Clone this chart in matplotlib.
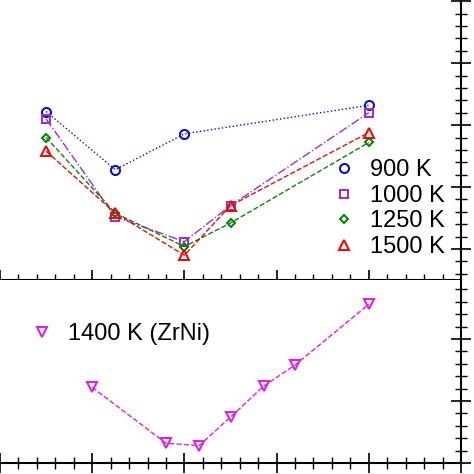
import matplotlib
matplotlib.use("Agg")
import matplotlib.pyplot as plt
import numpy as np
from matplotlib.ticker import MultipleLocator

plt.rcParams["font.family"] = ["Liberation Sans", "DejaVu Sans"]

# top panel: four temperatures
x_top = [0.05, 0.125, 0.2, 0.25, 0.4]
t900_x = [0.05, 0.125, 0.2, 0.4]
t900_y = [1.61, 1.14, 1.43, 1.66]
t1000 = [1.55, 0.76, 0.56, 0.85, 1.60]
t1250 = [1.40, 0.79, 0.52, 0.71, 1.36]
t1500 = [1.29, 0.79, 0.45, 0.85, 1.44]

# bottom panel: ZrNi
x_bot = [0.1, 0.18, 0.216, 0.25, 0.286, 0.32, 0.4]
zrni = [0.61, 0.16, 0.14, 0.37, 0.62, 0.79, 1.28]

fig = plt.figure(figsize=(4.74, 4.74), dpi=100)
ax1 = fig.add_axes([0.0, 194/474, 461/474, 280/474])
ax2 = fig.add_axes([0.0, 11/474, 461/474, 183/474])

ms = 6.5
ax1.plot(t900_x, t900_y, ":", color="#1010c0", marker="o", mfc="none", ms=ms, mew=1.5, lw=1, label="900 K")
ax1.plot(x_top, t1000, "-.", color="#9933cc", marker="s", mfc="none", ms=ms-1, mew=1.5, lw=1, label="1000 K")
ax1.plot(x_top, t1250, "--", color="#108010", marker="D", mfc="none", ms=ms-2, mew=1.5, lw=1, label="1250 K")
ax1.plot(x_top, t1500, "--", color="#e01010", marker="^", mfc="none", ms=ms, mew=1.5, lw=1, label="1500 K")
ax2.plot(x_bot, zrni, "--", color="#dd22dd", marker="v", mfc="none", ms=ms, mew=1.5, lw=1, label="1400 K (ZrNi)")

ax1.set_ylim(0.25, 2.51)
ax2.set_ylim(0, 1.476)
for ax in (ax1, ax2):
    ax.set_xlim(0, 0.5)
    ax.xaxis.set_major_locator(MultipleLocator(0.1))
    ax.xaxis.set_minor_locator(MultipleLocator(0.02))
    ax.yaxis.set_major_locator(MultipleLocator(0.5))
    ax.yaxis.set_minor_locator(MultipleLocator(0.1))
    ax.tick_params(which="major", direction="inout", length=14, width=1.2,
                   right=True, left=False, labelleft=False, labelbottom=False)
    ax.tick_params(which="minor", direction="inout", length=8, width=1,
                   right=True, left=False)
    for sp in ax.spines.values():
        sp.set_linewidth(1.5)
    ax.spines["top"].set_visible(False)
    ax.spines["left"].set_visible(False)

leg1 = ax1.legend(loc="lower right", bbox_to_anchor=(1.0, 0.02), fontsize=17, frameon=False,
                  handlelength=1.0, handletextpad=0.6, labelspacing=0.15, borderaxespad=0.3)
leg2 = ax2.legend(loc="upper left", bbox_to_anchor=(0.02, 0.88), fontsize=17, frameon=False,
                  handlelength=1.0, handletextpad=0.6)
for leg in (leg1, leg2):
    for ln in leg.get_lines():
        ln.set_linestyle("none")

fig.savefig("out.png", dpi=100)
